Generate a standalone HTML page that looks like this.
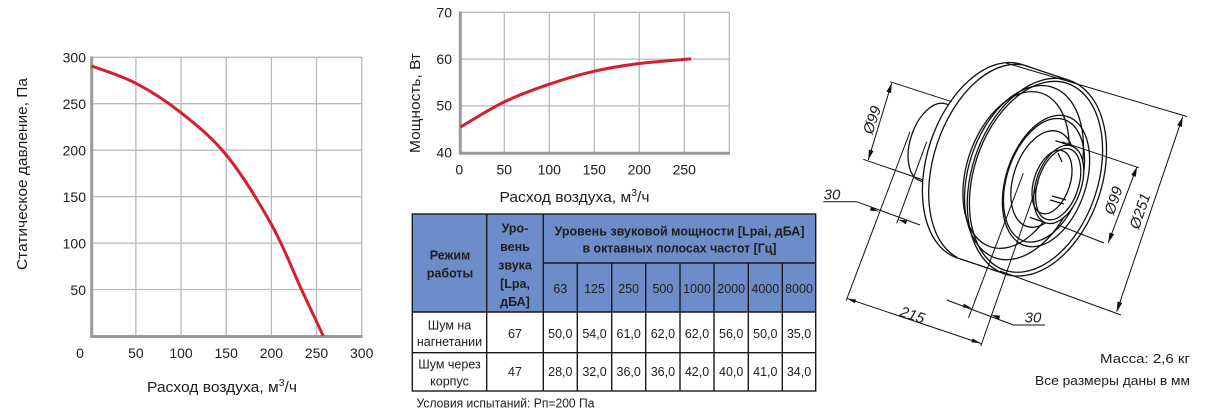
<!DOCTYPE html>
<html><head><meta charset="utf-8"><style>
html,body{margin:0;padding:0;background:#fff;}
svg{display:block;}
text{font-family:"Liberation Sans",sans-serif;fill:#1d1d1b;}
.tk{font-size:14px;}
.hb{font-size:12.5px;font-weight:bold;}
.tv{font-size:12.5px;}
.dm{font-size:15px;font-style:italic;}
</style></head><body>
<svg width="1210" height="418" viewBox="0 0 1210 418" xmlns="http://www.w3.org/2000/svg">
<defs>
<marker id="ar" markerWidth="10" markerHeight="5" refX="10" refY="2.5" orient="auto-start-reverse" markerUnits="userSpaceOnUse"><path d="M0,0 L10,2.5 L0,5 z" fill="#111"/></marker>
</defs>

<!-- ===== Left chart: static pressure ===== -->
<g stroke="#b9b9b9" stroke-width="1.3" fill="none">
<line x1="135.9" y1="57.3" x2="135.9" y2="336"/>
<line x1="181" y1="57.3" x2="181" y2="336"/>
<line x1="226.2" y1="57.3" x2="226.2" y2="336"/>
<line x1="271.4" y1="57.3" x2="271.4" y2="336"/>
<line x1="316.5" y1="57.3" x2="316.5" y2="336"/>
<line x1="361.7" y1="57.3" x2="361.7" y2="336"/>
<line x1="90.7" y1="57.3" x2="361.7" y2="57.3"/>
<line x1="90.7" y1="103.7" x2="361.7" y2="103.7"/>
<line x1="90.7" y1="150.2" x2="361.7" y2="150.2"/>
<line x1="90.7" y1="196.6" x2="361.7" y2="196.6"/>
<line x1="90.7" y1="243.1" x2="361.7" y2="243.1"/>
<line x1="90.7" y1="289.5" x2="361.7" y2="289.5"/>
</g>
<line x1="91.7" y1="56.5" x2="91.7" y2="337.5" stroke="#9a9a9a" stroke-width="3"/>
<line x1="90" y1="336.5" x2="362.5" y2="336.5" stroke="#9a9a9a" stroke-width="3"/>
<path fill="none" stroke="#d4202c" stroke-width="3" stroke-linejoin="round"
d="M91.5,66 C98.9,68.9 121.1,75.5 136,83.3 C150.9,91.1 165.9,100.7 181,112.7 C196.1,124.7 211.6,136.8 226.7,155.5 C241.8,174.2 259.2,202.6 271.7,225 C284.2,247.4 293.1,271.5 301.7,290 C310.3,308.5 319.7,328.3 323.3,336"/>
<g class="tk" text-anchor="end">
<text x="86" y="62.5">300</text>
<text x="86" y="109">250</text>
<text x="86" y="155.5">200</text>
<text x="86" y="202">150</text>
<text x="86" y="248.5">100</text>
<text x="86" y="295">50</text>
</g>
<g class="tk" text-anchor="middle">
<text x="80" y="358">0</text>
<text x="135.9" y="358">50</text>
<text x="181" y="358">100</text>
<text x="226.2" y="358">150</text>
<text x="271.4" y="358">200</text>
<text x="316.5" y="358">250</text>
<text x="361.7" y="358">300</text>
</g>
<text x="147" y="392" font-size="15" textLength="150" lengthAdjust="spacingAndGlyphs">Расход воздуха, м<tspan font-size="10" dy="-6">3</tspan><tspan dy="6">/ч</tspan></text>
<text transform="translate(27,174) rotate(-90)" text-anchor="middle" font-size="15" textLength="192" lengthAdjust="spacingAndGlyphs">Статическое давление, Па</text>

<!-- ===== Power chart ===== -->
<g stroke="#b9b9b9" stroke-width="1.3" fill="none">
<line x1="504.3" y1="12.3" x2="504.3" y2="152.7"/>
<line x1="549.3" y1="12.3" x2="549.3" y2="152.7"/>
<line x1="594.3" y1="12.3" x2="594.3" y2="152.7"/>
<line x1="639.3" y1="12.3" x2="639.3" y2="152.7"/>
<line x1="684.3" y1="12.3" x2="684.3" y2="152.7"/>
<line x1="729.3" y1="12.3" x2="729.3" y2="152.7"/>
<line x1="459.3" y1="12.3" x2="729.3" y2="12.3"/>
<line x1="459.3" y1="59.1" x2="729.3" y2="59.1"/>
<line x1="459.3" y1="105.9" x2="729.3" y2="105.9"/>
</g>
<line x1="460.3" y1="11.5" x2="460.3" y2="154" stroke="#9a9a9a" stroke-width="3"/>
<line x1="459" y1="153.2" x2="730" y2="153.2" stroke="#9a9a9a" stroke-width="3"/>
<path fill="none" stroke="#d4202c" stroke-width="3" stroke-linejoin="round"
d="M460.5,127 C467.8,122.8 489.5,109 504.3,101.9 C519.1,94.77 534.3,89.3 549.3,84.2 C564.3,79.08 579.3,74.65 594.3,71.2 C609.3,67.75 623.2,65.55 639.3,63.5 C655.4,61.45 682.4,59.67 691,58.9"/>
<g class="tk" text-anchor="end">
<text x="452" y="17.5">70</text>
<text x="452" y="64">60</text>
<text x="452" y="110.5">50</text>
<text x="452" y="157.5">40</text>
</g>
<g class="tk" text-anchor="middle">
<text x="459.3" y="174.5">0</text>
<text x="504.3" y="174.5">50</text>
<text x="549.3" y="174.5">100</text>
<text x="594.3" y="174.5">150</text>
<text x="639.3" y="174.5">200</text>
<text x="684.3" y="174.5">250</text>
</g>
<text x="499.5" y="202" font-size="15" textLength="150" lengthAdjust="spacingAndGlyphs">Расход воздуха, м<tspan font-size="10" dy="-6">3</tspan><tspan dy="6">/ч</tspan></text>
<text transform="translate(420,103) rotate(-90)" text-anchor="middle" font-size="15" textLength="100" lengthAdjust="spacingAndGlyphs">Мощность, Вт</text>

<!-- ===== Table ===== -->
<rect x="412.3" y="214" width="403.4" height="98" fill="#6c8dc9"/>
<rect x="412.3" y="312" width="403.4" height="79" fill="#fff"/>
<g stroke="#1a1a1a" stroke-width="1.4" fill="none">
<rect x="412.3" y="214" width="403.4" height="177"/>
<line x1="486.7" y1="214" x2="486.7" y2="391"/>
<line x1="543.3" y1="214" x2="543.3" y2="391"/>
<line x1="543.3" y1="263" x2="815.7" y2="263"/>
<line x1="412.3" y1="312" x2="815.7" y2="312"/>
<line x1="412.3" y1="352.7" x2="815.7" y2="352.7"/>
<line x1="577.3" y1="263" x2="577.3" y2="391"/>
<line x1="611.7" y1="263" x2="611.7" y2="391"/>
<line x1="645.7" y1="263" x2="645.7" y2="391"/>
<line x1="680" y1="263" x2="680" y2="391"/>
<line x1="714" y1="263" x2="714" y2="391"/>
<line x1="748.3" y1="263" x2="748.3" y2="391"/>
<line x1="782.3" y1="263" x2="782.3" y2="391"/>
</g>
<g class="hb" text-anchor="middle">
<text x="450" y="259.5">Режим</text>
<text x="450" y="277.5">работы</text>
<text x="515" y="232.5">Уро-</text>
<text x="515" y="251">вень</text>
<text x="515" y="269.5">звука</text>
<text x="515" y="288">[Lpa,</text>
<text x="515" y="306">дБА]</text>
<text x="679.5" y="235.5" textLength="250" lengthAdjust="spacingAndGlyphs">Уровень звуковой мощности [Lpai, дБА]</text>
<text x="679.5" y="252.5" textLength="194" lengthAdjust="spacingAndGlyphs">в октавных полосах частот [Гц]</text>
</g>
<g class="tv" text-anchor="middle">
<text x="560.3" y="292.8">63</text>
<text x="594.5" y="292.8">125</text>
<text x="628.7" y="292.8">250</text>
<text x="662.9" y="292.8">500</text>
<text x="697" y="292.8">1000</text>
<text x="731.2" y="292.8">2000</text>
<text x="765.3" y="292.8">4000</text>
<text x="799" y="292.8">8000</text>
<text x="449.5" y="329.5">Шум на</text>
<text x="449.5" y="346">нагнетании</text>
<text x="515" y="337.8">67</text>
<text x="560.3" y="337.8">50,0</text>
<text x="594.5" y="337.8">54,0</text>
<text x="628.7" y="337.8">61,0</text>
<text x="662.9" y="337.8">62,0</text>
<text x="697" y="337.8">62,0</text>
<text x="731.2" y="337.8">56,0</text>
<text x="765.3" y="337.8">50,0</text>
<text x="799" y="337.8">35,0</text>
<text x="449.5" y="368.5">Шум через</text>
<text x="449.5" y="385.5">корпус</text>
<text x="515" y="376.2">47</text>
<text x="560.3" y="376.2">28,0</text>
<text x="594.5" y="376.2">32,0</text>
<text x="628.7" y="376.2">36,0</text>
<text x="662.9" y="376.2">36,0</text>
<text x="697" y="376.2">42,0</text>
<text x="731.2" y="376.2">40,0</text>
<text x="765.3" y="376.2">41,0</text>
<text x="799" y="376.2">34,0</text>
</g>
<text x="416.5" y="407.5" font-size="12.5" textLength="178" lengthAdjust="spacingAndGlyphs">Условия испытаний: Рп=200 Па</text>

<!-- ===== Drawing ===== -->
<g stroke="#111" stroke-width="1.3" fill="none" stroke-linejoin="round">
<path d="M945.5,103.8 A22.6,40.5 18.5 0 0 919.8,180.6"/>
<line x1="945.5" y1="103.8" x2="1002.4" y2="122.8"/>
<line x1="919.8" y1="180.6" x2="976.7" y2="199.6"/>
<path d="M964.6,109.7 A23,41 18.5 0 0 938.6,187.4"/>
<ellipse cx="989.5" cy="161.2" rx="62" ry="102" transform="rotate(18.5 989.5 161.2)" fill="#fff"/>
<ellipse cx="995" cy="163" rx="61" ry="102" transform="rotate(18.5 995 163)" fill="#fff"/>
<polygon points="1021.9,64.5 1069.3,80.4 1004.6,273.8 957.2,257.9" fill="#fff" stroke="none"/>
<line x1="1021.9" y1="64.5" x2="1069.3" y2="80.4"/>
<line x1="957.2" y1="257.9" x2="1004.6" y2="273.8"/>
<ellipse cx="1036.9" cy="177.1" rx="65" ry="102" transform="rotate(18.5 1036.9 177.1)" fill="#fff"/>
<ellipse cx="1036" cy="176.8" rx="62" ry="98.5" transform="rotate(18.5 1036 176.8)"/>
<ellipse cx="1024" cy="172.6" rx="55" ry="90" transform="rotate(18.5 1024 172.6)"/>
<ellipse cx="1016" cy="170" rx="49" ry="81" transform="rotate(18.5 1016 170)"/>
<ellipse cx="1046" cy="181" rx="40" ry="68" transform="rotate(18.5 1046 181)"/>
<ellipse cx="1044" cy="180.3" rx="37" ry="64" transform="rotate(18.5 1044 180.3)"/>
<ellipse cx="1042.6" cy="179" rx="29" ry="50" transform="rotate(18.5 1042.6 179)"/>
<polygon points="1055.4,140.6 1071.5,146 1045.8,222.8 1029.7,217.4" fill="#fff" stroke="none"/>
<line x1="1055.4" y1="140.6" x2="1071.5" y2="146"/>
<line x1="1029.7" y1="217.4" x2="1045.8" y2="222.8"/>
<ellipse cx="1058.7" cy="184.4" rx="22.6" ry="40.5" transform="rotate(18.5 1058.7 184.4)" fill="#fff"/>
<ellipse cx="1058.2" cy="184.2" rx="20.3" ry="37" transform="rotate(18.5 1058.2 184.2)"/>
<ellipse cx="1052" cy="182" rx="18" ry="33" transform="rotate(18.5 1052 182)"/>
<line x1="1058" y1="153" x2="1062" y2="162"/>
<line x1="1052" y1="196" x2="1066" y2="200"/>
<line x1="1050" y1="200" x2="1064" y2="204"/>
</g>

<g stroke="#111" stroke-width="1" fill="none">
<line x1="890" y1="81.7" x2="951.7" y2="101.7"/>
<line x1="863.3" y1="159.3" x2="923.3" y2="180"/>
<line x1="891.7" y1="83" x2="868.3" y2="159.8" marker-start="url(#ar)" marker-end="url(#ar)"/>
<line x1="926.7" y1="141.7" x2="896.7" y2="223.3"/>
<line x1="910" y1="131.7" x2="846.2" y2="300.5"/>
<polyline points="823.3,201.7 856.7,201.7 920,225"/>
<line x1="846.7" y1="298.3" x2="981" y2="343.5"/>
<line x1="968.5" y1="318" x2="1023.3" y2="173.3"/>
<line x1="980.8" y1="346" x2="1038.3" y2="181.7"/>
<polyline points="946.7,300 1013.3,325 1045,325"/>
<line x1="1061.7" y1="141.7" x2="1139" y2="167.8"/>
<line x1="1058" y1="225" x2="1104" y2="243"/>
<line x1="1137" y1="166.7" x2="1108.3" y2="242.7" marker-start="url(#ar)" marker-end="url(#ar)"/>
<line x1="1006" y1="63" x2="1187" y2="116.5"/>
<line x1="1000" y1="271" x2="1121" y2="315"/>
<line x1="1182.7" y1="116.7" x2="1116.7" y2="311.7" marker-start="url(#ar)" marker-end="url(#ar)"/>
</g>
<g fill="#111" stroke="none">
<polygon points="879,211.5 869.9,210.5 871.1,206.7"/>
<polygon points="898,219.5 905.9,224.3 907.1,220.5"/>
<polygon points="847,298.5 854.9,303.3 856.1,299.5"/>
<polygon points="980.5,343.2 971.4,342.2 972.6,338.4"/>
<polygon points="971.8,308.4 962.7,307.4 963.9,303.6"/>
<polygon points="991.1,314.8 999,319.6 1000.2,315.8"/>
</g>
<g class="dm" text-anchor="middle">
<text x="832" y="199.5">30</text>
<text x="1033" y="322.5">30</text>
<text transform="translate(912.5,315) rotate(18.5)" y="5">215</text>
<text transform="translate(872,120) rotate(-71.5)" y="5">Ø99</text>
<text transform="translate(1113.5,200.5) rotate(-71.5)" y="5">Ø99</text>
<text transform="translate(1140,211) rotate(-71.5)" y="5">Ø251</text>
</g>

<text x="1190" y="363" text-anchor="end" font-size="13" textLength="90" lengthAdjust="spacingAndGlyphs">Масса: 2,6 кг</text>
<text x="1190" y="385" text-anchor="end" font-size="13" textLength="155" lengthAdjust="spacingAndGlyphs">Все размеры даны в мм</text>
</svg>
</body></html>
